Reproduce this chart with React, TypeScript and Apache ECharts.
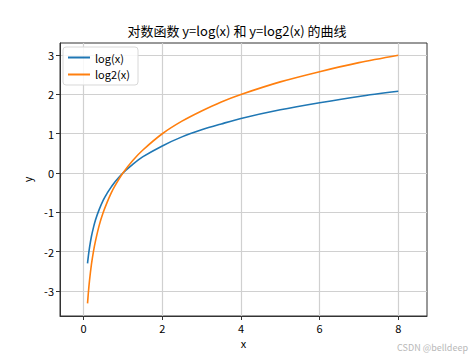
import React, { useEffect, useRef } from "react";
import * as echarts from "echarts";

const xs = [0.1, 0.12, 0.15, 0.2, 0.25, 0.3, 0.4, 0.5, 0.6, 0.7, 0.8, 1, 1.25, 1.5, 2, 2.5, 3, 3.5, 4, 5, 6, 7, 8];
const lnY = [-2.3, -2.12, -1.9, -1.61, -1.39, -1.2, -0.92, -0.69, -0.51, -0.36, -0.22, 0, 0.22, 0.41, 0.69, 0.92, 1.1, 1.25, 1.39, 1.61, 1.79, 1.95, 2.08];
const log2Y = [-3.32, -3.06, -2.74, -2.32, -2.0, -1.74, -1.32, -1.0, -0.74, -0.51, -0.32, 0, 0.32, 0.58, 1.0, 1.32, 1.58, 1.81, 2.0, 2.32, 2.58, 2.81, 3.0];
const xTicks = [0, 2, 4, 6, 8];
const yTicks = [-3, -2, -1, 0, 1, 2, 3];
const seriesNames = ["log(x)", "log2(x)"];
const title = "对数函数 y=log(x) 和 y=log2(x) 的曲线";

const FONT = "Noto Sans CJK SC";

export default function App() {
  const ref = useRef<HTMLDivElement>(null);
  useEffect(() => {
    const chart = echarts.init(ref.current!, null, { renderer: "svg" });
    chart.setOption({
      animation: false,
      backgroundColor: "#fff",
      title: {
        text: title,
        left: "center",
        top: 24,
        textStyle: { fontFamily: FONT, fontSize: 13, fontWeight: "normal", color: "#000" },
        padding: 0,
      },
      grid: {
        left: 60,
        top: 43,
        right: 47,
        bottom: 39,
        show: true,
        borderColor: "#333",
        borderWidth: 1,
        backgroundColor: "transparent",
      },
      legend: {
        orient: "vertical",
        left: 63,
        top: 47,
        data: seriesNames,
        icon: "rect",
        itemWidth: 22,
        itemHeight: 2,
        itemGap: 6,
        padding: [5, 8, 5, 5],
        backgroundColor: "rgba(255,255,255,0.85)",
        borderColor: "#d8d8d8",
        borderWidth: 1,
        borderRadius: 3,
        textStyle: { fontFamily: FONT, fontSize: 11, color: "#000" },
      },
      xAxis: {
        type: "value",
        min: -0.6,
        max: 8.73,
        name: "x",
        nameLocation: "middle",
        nameGap: 20,
        nameTextStyle: { fontFamily: FONT, fontSize: 11, color: "#000" },
        axisLine: { show: true, onZero: false, lineStyle: { color: "#333" } },
        axisTick: { show: true, inside: false, length: 4, customValues: xTicks, lineStyle: { color: "#333" } },
        axisLabel: { customValues: xTicks, fontFamily: FONT, fontSize: 11, color: "#000", margin: 6 },
        splitLine: { show: true, lineStyle: { color: "#d0d0d0", width: 1.2 } },
      },
      yAxis: {
        type: "value",
        min: -3.64,
        max: 3.31,
        name: "y",
        nameLocation: "middle",
        nameGap: 28,
        nameTextStyle: { fontFamily: FONT, fontSize: 11, color: "#000" },
        axisLine: { show: true, onZero: false, lineStyle: { color: "#333" } },
        axisTick: { show: true, inside: false, length: 4, customValues: yTicks, lineStyle: { color: "#333" } },
        axisLabel: { customValues: yTicks, fontFamily: FONT, fontSize: 11, color: "#000", margin: 6 },
        splitLine: { show: true, lineStyle: { color: "#d0d0d0", width: 1.2 } },
      },
      series: [
        {
          name: seriesNames[0],
          type: "line",
          data: xs.map((x, i) => [x, lnY[i]]),
          showSymbol: false,
          smooth: 0.3,
          lineStyle: { color: "#1f77b4", width: 1.6 },
          itemStyle: { color: "#1f77b4" },
        },
        {
          name: seriesNames[1],
          type: "line",
          data: xs.map((x, i) => [x, log2Y[i]]),
          showSymbol: false,
          smooth: 0.3,
          lineStyle: { color: "#ff7f0e", width: 1.6 },
          itemStyle: { color: "#ff7f0e" },
        },
      ],
      graphic: [
        {
          type: "text",
          right: 6,
          bottom: 3,
          style: { text: "CSDN @belldeep", fill: "#b8b8b8", font: `9px ${FONT}` },
        },
      ],
    });
    return () => chart.dispose();
  }, []);
  return <div ref={ref} style={{ position: "fixed", left: 0, top: 0, width: 474, height: 355 }} />;
}
